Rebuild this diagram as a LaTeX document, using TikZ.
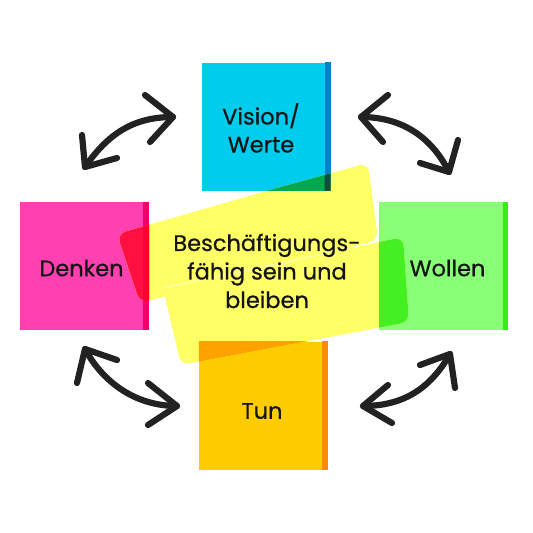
\documentclass[tikz,border=0pt]{standalone}
\usepackage{fontspec}
\setmainfont{Poppins}[FakeBold=0.6]
\usetikzlibrary{calc}
\definecolor{cblue}{HTML}{00CCEE}
\definecolor{cbluedark}{HTML}{0080C8}
\definecolor{cblueov}{HTML}{00A84E}
\definecolor{cbluedarkov}{HTML}{0F4F3F}
\definecolor{cpink}{HTML}{FF40B0}
\definecolor{cpinkdark}{HTML}{F5006A}
\definecolor{cpinkov}{HTML}{FF1040}
\definecolor{cpinkdarkov}{HTML}{FF0030}
\definecolor{cgreen}{HTML}{88FF77}
\definecolor{cgreendark}{HTML}{33EE11}
\definecolor{cgreenov}{HTML}{44F022}
\definecolor{corange}{HTML}{FFCC00}
\definecolor{corangedark}{HTML}{FF8C00}
\definecolor{corangeov}{HTML}{FFA200}
\definecolor{cyellow}{HTML}{FFFF66}
\definecolor{cyellowlight}{HTML}{FFFF9A}
\definecolor{cink}{HTML}{222222}
\def\pathU{(117,234) -- (270,190) -- (368,163) -- (378,240) -- (140,303) -- cycle}
\def\pathL{(163,288) -- (403,237) -- (409,322) -- (181,365) -- cycle}
\begin{document}
\begin{tikzpicture}[x=1pt,y=-1pt,
  box/.style={rectangle, inner sep=0pt, minimum width=129pt, minimum height=128pt, draw=none},
  lbl/.style={text=black!92, inner sep=0pt, align=center, font=\fontsize{22.5pt}{28pt}\selectfont},
  hl/.style={fill=cyellow, rounded corners=9pt},
  arr/.style={draw=cink, line width=6.2pt, line cap=round, line join=round}]
\useasboundingbox (0,0) rectangle (533,533);
% boxes
\node[box, fill=cblue] (vis) at (266,126.5) {};
\node[box, fill=cpink] (den) at (84.5,266) {};
\node[box, fill=cgreen] (wol) at (443.5,266) {};
\node[box, fill=corange] (tun) at (263.5,405.5) {};
% stripes
\fill[cbluedark] ($(vis.north east)+(-6,0)$) rectangle (vis.south east);
\fill[cpinkdark] ($(den.north east)+(-6,0)$) rectangle (den.south east);
\fill[cgreendark] ($(wol.north east)+(-5,0)$) rectangle (wol.south east);
\fill[corangedark] ($(tun.north east)+(-6,0)$) rectangle (tun.south east);
% highlighter strokes
\fill[hl] \pathU;
\fill[hl] \pathL;
\begin{scope}
  \clip[rounded corners=9pt] \pathU;
  \draw[cyellowlight, line width=2pt, rounded corners=9pt] (163,288) -- (403,237);
\end{scope}
% overlaps
\begin{scope}
  \clip (vis.north west) rectangle (vis.south east);
  \fill[hl, fill=cblueov] \pathU;
\end{scope}
\begin{scope}
  \clip ($(vis.north east)+(-6,0)$) rectangle (vis.south east);
  \fill[hl, fill=cbluedarkov] \pathU;
\end{scope}
\begin{scope}
  \clip (den.north west) rectangle (den.south east);
  \fill[hl, fill=cpinkov] \pathU;
\end{scope}
\begin{scope}
  \clip ($(den.north east)+(-6,0)$) rectangle (den.south east);
  \fill[hl, fill=cpinkdarkov] \pathU;
\end{scope}
\begin{scope}
  \clip (wol.north west) rectangle (wol.south east);
  \fill[hl, fill=cgreenov] \pathL;
\end{scope}
\begin{scope}
  \clip (tun.north west) rectangle (tun.south east);
  \fill[hl, fill=corangeov] \pathL;
\end{scope}
% labels
\node[lbl] (tvis) at (261,128) {Vision/\\Werte};
\node[lbl] (tden) at (81.5,268) {Denken};
\node[lbl] (twol) at (447.5,268) {Wollen};
\node[lbl] (ttun) at (262,411) {Tun};
\node[lbl, font=\fontsize{22.5pt}{28.5pt}\selectfont] (tcen) at (267,271) {Beschäftigungs-\\fähig sein und\\bleiben};
% arrows
\coordinate (a1) at (85,167);  \coordinate (b1) at (173,117);
\coordinate (a2) at (361,117); \coordinate (b2) at (449,172);
\coordinate (a3) at (85,349);  \coordinate (b3) at (177,406);
\coordinate (a4) at (363,406); \coordinate (b4) at (450,354);
\draw[arr] (a1) .. controls +(23,-33) and +(-40,0) .. (b1);
\draw[arr] ($(b1)+(-28,-22)$) -- (b1) -- ($(b1)+(-23,25)$);
\draw[arr] ($(a1)+(-3,-32)$) -- (a1) -- ($(a1)+(32,-9)$);
\draw[arr] (a2) .. controls +(40,0) and +(-18,-36) .. (b2);
\draw[arr] ($(a2)+(27,-22)$) -- (a2) -- ($(a2)+(22,25)$);
\draw[arr] ($(b2)+(9,-32)$) -- (b2) -- ($(b2)+(-29,-9)$);
\draw[arr] (a3) .. controls +(19,35) and +(-40,0) .. (b3);
\draw[arr] ($(a3)+(-8,34)$) -- (a3) -- ($(a3)+(32,11)$);
\draw[arr] ($(b3)+(-29,-23)$) -- (b3) -- ($(b3)+(-29,19)$);
\draw[arr] (a4) .. controls +(40,0) and +(-20,35) .. (b4);
\draw[arr] ($(a4)+(25,-21)$) -- (a4) -- ($(a4)+(29,17)$);
\draw[arr] ($(b4)+(-30,11)$) -- (b4) -- ($(b4)+(5,34)$);
\end{tikzpicture}
\end{document}
